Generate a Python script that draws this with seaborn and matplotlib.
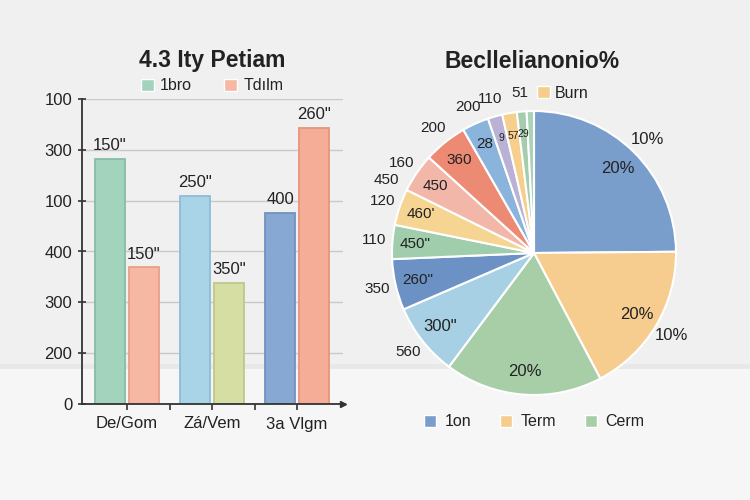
import numpy as np
import pandas as pd
import seaborn as sns
import matplotlib.pyplot as plt
from matplotlib.patches import Patch, Rectangle

# ---- bar chart data ----
categories = ["De/Gom", "Zá/Vem", "3a Vlgm"]
series_names = ["1bro", "Tdılm"]
first_values = [482, 410, 376]
second_values = [269, 239, 543]
first_labels = ['150"', '250"', '400']
second_labels = ['150"', '350"', '260"']
y_ticks = [0, 100, 200, 300, 400, 500, 600]
y_tick_labels = ["0", "200", "300", "400", "100", "300", "100"]

# ---- pie chart data (slice sizes in degrees) ----
pie_values = [90, 63, 65, 30, 21, 14, 15, 16, 18, 11, 6, 6, 4, 3]
pie_inner = ["20%", "20%", "20%", '300"', '260"', '450"', "460'", "450", "360", "28", "9", "57", "29", ""]
pie_outer = ["10%", "10%", "", "560", "350", "110", "120", "160", "200", "200", "110", "", "51", ""]
# labels that sit on the boundary between a slice and the next one
pie_edge = ["", "", "", "", "", "", "450", "", "", "", "", "", "", ""]
pie_legend_top = ["Burn"]
pie_legend_bottom = ["1on", "Term", "Cerm"]

# colours
bar_colors = ["#a3d3bd", "#a9d3e7", "#86a8d3", "#f7b8a3", "#d7dea3", "#f5ad97"]
bar_edges = ["#86bda4", "#8dbdd6", "#6f92c0", "#e99f88", "#bfc78a", "#e6957d"]
pie_colors = ["#7a9ecb", "#f6cd8e", "#a8cea8", "#a8d0e4", "#6c91c4", "#a0cdac",
              "#f6d492", "#f3b7aa", "#ec8a73", "#8bb4dc", "#b9b2d4", "#f6cf8c",
              "#a6ccae", "#aad2b4"]

sns.set_theme(style="white")
plt.rcParams["font.family"] = ["Liberation Sans", "DejaVu Sans"]
text_color = "#222222"

fig = plt.figure(figsize=(7.5, 5), dpi=100)
fig.patch.set_facecolor("#f0f0f0")
# marble table top, behind the axes
fig.patches.append(Rectangle((0, 0), 1, 0.27, transform=fig.transFigure,
                             facecolor="#f6f6f6", edgecolor="none", zorder=-2))
fig.patches.append(Rectangle((0, 0.262), 1, 0.01, transform=fig.transFigure,
                             facecolor="#e8e8e8", edgecolor="none", zorder=-1))

# ---- left: grouped bars ----
df = pd.DataFrame({
    "category": categories * 2,
    "series": [series_names[0]] * 3 + [series_names[1]] * 3,
    "value": first_values + second_values,
})
ax = fig.add_axes([82 / 750, 96 / 500, 261 / 750, 305 / 500])
ax.set_facecolor("none")
sns.barplot(data=df, x="category", y="value", hue="series", order=categories,
            hue_order=series_names, palette=[bar_colors[0], bar_colors[3]],
            saturation=1, gap=0.12, width=0.8, legend=False, ax=ax)
for patch, fc, ec in zip(ax.patches, bar_colors, bar_edges):
    patch.set_facecolor(fc)
    patch.set_edgecolor(ec)
    patch.set_linewidth(1.3)
ax.bar_label(ax.containers[0], labels=first_labels, padding=4, fontsize=12, color=text_color)
ax.bar_label(ax.containers[1], labels=second_labels, padding=4, fontsize=12, color=text_color)

ax.set_ylim(0, 600)
ax.set_xlim(-0.53, 2.54)
ax.set_yticks(y_ticks)
ax.set_yticklabels(y_tick_labels)
ax.set_xticks([0.5, 1.5], minor=True)
ax.set_xlabel("")
ax.set_ylabel("")
ax.yaxis.grid(True, color="#c9c9c9", linewidth=1)
ax.set_axisbelow(True)
for s in ["top", "right"]:
    ax.spines[s].set_visible(False)
for s in ["left", "bottom"]:
    ax.spines[s].set_color("#333333")
    ax.spines[s].set_linewidth(1.3)
ax.tick_params(axis="y", which="major", direction="inout", length=6, width=1.2,
               color="#333333", labelsize=12, labelcolor=text_color, pad=4, left=True)
ax.tick_params(axis="x", which="both", direction="out", length=4, width=1.2,
               color="#333333", labelsize=12, labelcolor=text_color, pad=5, bottom=True)
ax.plot(1, 0, marker=">", color="#333333", markersize=5,
        transform=ax.get_yaxis_transform(), clip_on=False)

fig.text(212 / 750, 1 - 60 / 500, "4.3 Ity Petiam", ha="center", va="center",
         fontsize=16.5, fontweight="bold", color=text_color)
fig.legend(handles=[Patch(facecolor=bar_colors[0]), Patch(facecolor=bar_colors[3])],
           labels=series_names, loc="center", bbox_to_anchor=(212 / 750, 1 - 86 / 500),
           ncol=2, frameon=False, fontsize=11.5, handlelength=0.8, handleheight=0.8,
           handletextpad=0.4, columnspacing=2.0, labelcolor=text_color)

# ---- right: pie ----
R = 142
ax2 = fig.add_axes([(534 - 180) / 750, 1 - (253 + 180) / 500, 360 / 750, 360 / 500])
ax2.set_facecolor("none")
wedges, _ = ax2.pie(pie_values, colors=pie_colors, startangle=90, counterclock=False,
                    wedgeprops=dict(edgecolor="white", linewidth=1.5))
lim = 180 / R
ax2.set_xlim(-lim, lim)
ax2.set_ylim(-lim, lim)
ax2.set_aspect("equal")

for w, inner, outer, edge in zip(wedges, pie_inner, pie_outer, pie_edge):
    span = w.theta2 - w.theta1
    mid = np.deg2rad((w.theta1 + w.theta2) / 2)
    fs = 12 if span > 25 else (11 if span > 9 else 7.5)
    if inner:
        ax2.text(0.84 * np.cos(mid), 0.84 * np.sin(mid), inner, ha="center", va="center",
                 fontsize=fs, color=text_color)
    if outer:
        ax2.text(1.13 * np.cos(mid), 1.13 * np.sin(mid), outer, ha="center", va="center",
                 fontsize=12 if "%" in outer else 11, color=text_color)
    if edge:
        # clockwise pie: theta1 is the edge shared with the next slice
        nxt = np.deg2rad(w.theta1)
        ax2.text(1.16 * np.cos(nxt), 1.16 * np.sin(nxt), edge, ha="center", va="center",
                 fontsize=11, color=text_color)

fig.text(532 / 750, 1 - 62 / 500, "Becllelianonio%", ha="center", va="center",
         fontsize=16.5, fontweight="bold", color=text_color)
fig.legend(handles=[Patch(facecolor=pie_colors[1])], labels=pie_legend_top,
           loc="center", bbox_to_anchor=(563 / 750, 1 - 93 / 500), frameon=False,
           fontsize=11.5, handlelength=0.8, handleheight=0.8, handletextpad=0.3,
           labelcolor=text_color)
fig.legend(handles=[Patch(facecolor=pie_colors[0]), Patch(facecolor=pie_colors[1]),
                    Patch(facecolor=pie_colors[2])],
           labels=pie_legend_bottom, loc="center", bbox_to_anchor=(534 / 750, 1 - 422 / 500),
           ncol=3, frameon=False, fontsize=11.5, handlelength=0.8, handleheight=0.8,
           handletextpad=0.5, columnspacing=1.8, labelcolor=text_color)

fig.savefig("out.png", dpi=100, facecolor=fig.get_facecolor())
